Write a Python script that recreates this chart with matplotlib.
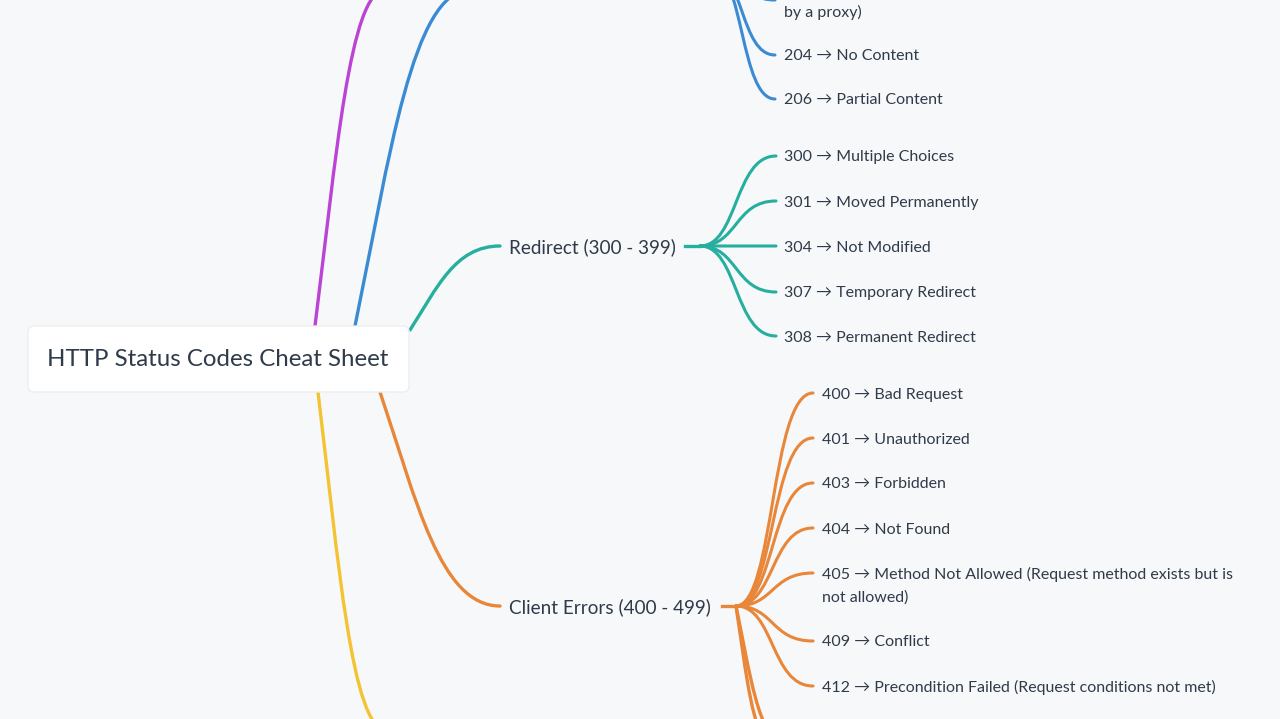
import matplotlib
matplotlib.use("Agg")
import matplotlib.pyplot as plt
from matplotlib.path import Path
from matplotlib.patches import PathPatch, FancyBboxPatch

root_label = "HTTP Status Codes Cheat Sheet"
redirect_label = "Redirect (300 - 399)"
redirect_items = ["300 → Multiple Choices", "301 → Moved Permanently", "304 → Not Modified",
                  "307 → Temporary Redirect", "308 → Permanent Redirect"]
client_label = "Client Errors (400 - 499)"
client_items = ["400 → Bad Request", "401 → Unauthorized", "403 → Forbidden", "404 → Not Found",
                "405 → Method Not Allowed (Request method exists but is\nnot allowed)",
                "409 → Conflict", "412 → Precondition Failed (Request conditions not met)"]
success_tail = ["by a proxy)", "204 → No Content", "206 → Partial Content"]

BG = "#f7f8fa"; TXT = "#2f3b4a"
PURPLE = "#bb44d4"; BLUE = "#3b8bd4"; TEAL = "#26ae9e"; ORANGE = "#e8873a"; YELLOW = "#f2c432"

fig = plt.figure(figsize=(12.8, 7.19), dpi=100, facecolor=BG)
ax = fig.add_axes([0, 0, 1, 1]); ax.set_xlim(0, 1280); ax.set_ylim(719, 0); ax.axis("off")
ax.set_facecolor(BG)
FONT = "Lato"
FS = 11.5

def vcurve(x0, y0, x1, y1, c, lw=2.4):
    dy = y1 - y0; dx = x1 - x0
    p = Path([(x0, y0), (x0 + dx * 0.3, y0 + dy * 0.5), (x1 - dx * 0.5, y1), (x1, y1)],
             [Path.MOVETO, Path.CURVE4, Path.CURVE4, Path.CURVE4])
    ax.add_patch(PathPatch(p, fc="none", ec=c, lw=lw, capstyle="round"))

def hcurve(x0, y0, x1, y1, c, lw=2.2):
    dx = x1 - x0
    p = Path([(x0, y0), (x0 + dx * 0.5, y0), (x0 + dx * 0.45, y1), (x1, y1)],
             [Path.MOVETO, Path.CURVE4, Path.CURVE4, Path.CURVE4])
    ax.add_patch(PathPatch(p, fc="none", ec=c, lw=lw, capstyle="round"))

def label(x, y, s, fs=FS):
    ax.text(x, y + 1.5, s, fontsize=fs, color=TXT, va="center", family=FONT)

# main branches
vcurve(315, 326, 385, -10, PURPLE)
vcurve(355, 326, 470, -10, BLUE)
vcurve(410, 330, 500, 246, TEAL)
vcurve(380, 392, 500, 606, ORANGE)
vcurve(318, 392, 386, 730, YELLOW)

# root box
ax.add_patch(FancyBboxPatch((28, 326), 381, 66, boxstyle="round,pad=0,rounding_size=6",
                            fc="white", ec="#eceef1", lw=1, zorder=3))
ax.text(47, 360, root_label, fontsize=17.3, color=TXT, va="center", family=FONT, zorder=4)

# success tail (blue)
bx, by = 712, -30
for lab, y in zip(success_tail, [11, 55, 99]):
    hcurve(bx, by, 775, 0 if lab.startswith("by") else y, BLUE)
    label(784, y, lab)

# redirect
label(509, 246, redirect_label, 13.6)
ax.plot([685, 700], [246, 246], color=TEAL, lw=2.4)
for lab, y in zip(redirect_items, [156, 201, 246, 292, 336]):
    hcurve(700, 246, 776, y, TEAL)
    label(784, y, lab)

# client errors
label(509, 606, client_label, 13.6)
ax.plot([722, 736], [606, 606], color=ORANGE, lw=2.4)
for lab, y in zip(client_items, [393, 438, 483, 528, 573, 641, 686]):
    hcurve(736, 606, 813, y, ORANGE)
    lines = lab.split("\n")
    for i, ln in enumerate(lines):
        label(822, y + 23 * i, ln)
for x1 in [770, 782]:
    vcurve(736, 606, x1, 740, ORANGE)

fig.savefig("out.png", dpi=100, facecolor=BG)
